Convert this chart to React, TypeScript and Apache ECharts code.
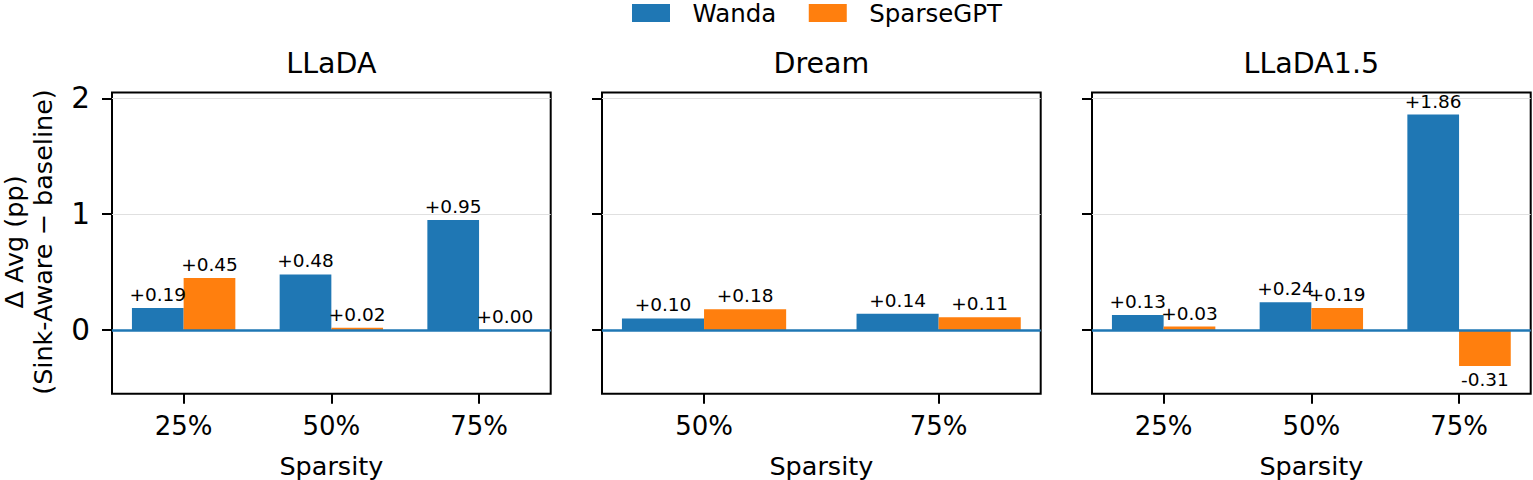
import React, { useEffect, useRef } from 'react';
import * as echarts from 'echarts';

// ---- data ----
const modelNames = ['LLaDA', 'Dream', 'LLaDA1.5'];
const seriesNames = ['Wanda', 'SparseGPT'];
const lladaCategories = ['25%', '50%', '75%'];
const dreamCategories = ['50%', '75%'];
const llada15Categories = ['25%', '50%', '75%'];
const lladaWanda = [0.19, 0.48, 0.95];
const lladaSparseGPT = [0.45, 0.02, 0.0];
const dreamWanda = [0.1, 0.14];
const dreamSparseGPT = [0.18, 0.11];
const llada15Wanda = [0.13, 0.24, 1.86];
const llada15SparseGPT = [0.03, 0.19, -0.31];
const yTickValues = [0, 1, 2];
const yMin = -0.55;
const yMax = 2.05;
const xAxisTitle = 'Sparsity';
const yAxisTitleLines = ['Δ Avg (pp)', '(Sink-Aware − baseline)'];

// ---- styling / layout ----
const FONT = '"DejaVu Sans", sans-serif';
const COLORS = ['#1f77b4', '#ff7f0e'];
const GRID_LEFTS = [112, 602, 1092];
const GRID_TOP = 92.5;
const GRID_W = 438.7;
const GRID_H = 301.3;
const BAR_FRAC = 0.35;
const YLABEL_X = [14, 42.5];

const panels = [
  { title: modelNames[0], cats: lladaCategories, vals: [lladaWanda, lladaSparseGPT] },
  { title: modelNames[1], cats: dreamCategories, vals: [dreamWanda, dreamSparseGPT] },
  { title: modelNames[2], cats: llada15Categories, vals: [llada15Wanda, llada15SparseGPT] },
];

function fmt(v: number) {
  return (v >= 0 ? '+' : '') + v.toFixed(2);
}

function buildOption() {
  const grid: any[] = [];
  const xAxis: any[] = [];
  const yAxis: any[] = [];
  const series: any[] = [];
  const graphic: any[] = [];

  panels.forEach((p, i) => {
    const n = p.cats.length;
    const span = n - 1 + 2 * BAR_FRAC;
    const xMin = -BAR_FRAC - 0.05 * span;
    const xMax = n - 1 + BAR_FRAC + 0.05 * span;
    const barPx = (BAR_FRAC * GRID_W) / (xMax - xMin);
    const idx = p.cats.map((_, j) => j);

    grid.push({
      left: GRID_LEFTS[i],
      top: GRID_TOP,
      width: GRID_W,
      height: GRID_H,
      show: true,
      borderColor: '#000',
      borderWidth: 2,
      backgroundColor: 'transparent',
      containLabel: false,
      outerBoundsMode: 'none',
    });

    xAxis.push({
      gridIndex: i,
      type: 'value',
      min: xMin,
      max: xMax,
      position: 'bottom',
      axisLine: { show: false, onZero: false },
      axisTick: { show: true, customValues: idx, length: 10, lineStyle: { color: '#000', width: 2 } },
      axisLabel: {
        show: true,
        customValues: idx,
        formatter: (v: number) => p.cats[Math.round(v)] ?? '',
        fontSize: 26,
        fontFamily: FONT,
        color: '#000',
        margin: 32,
        verticalAlign: 'middle',
      },
      splitLine: { show: false },
    });

    yAxis.push({
      gridIndex: i,
      type: 'value',
      min: yMin,
      max: yMax,
      position: 'left',
      axisLine: { show: false, onZero: false },
      axisTick: { show: true, customValues: yTickValues, length: 10, lineStyle: { color: '#000', width: 2 } },
      axisLabel: {
        show: i === 0,
        customValues: yTickValues,
        fontSize: 29.5,
        fontFamily: FONT,
        color: '#000',
        margin: 22,
        padding: [4, 0, 0, 0],
      },
      splitLine: { show: true, lineStyle: { color: '#e0e0e0', width: 1 } },
    });

    p.vals.forEach((vals, k) => {
      series.push({
        type: 'bar',
        name: seriesNames[k],
        xAxisIndex: i,
        yAxisIndex: i,
        barWidth: barPx,
        barGap: '0%',
        itemStyle: { color: COLORS[k] },
        data: vals.map((v, j) => ({
          value: [j, v],
          label: { position: v < 0 ? 'bottom' : 'top' },
        })),
        label: {
          show: true,
          formatter: (prm: any) => fmt(prm.value[1]),
          fontSize: 18.5,
          fontFamily: FONT,
          color: '#000',
          distance: 4,
        },
        markLine:
          k === 0
            ? {
                silent: true,
                symbol: ['none', 'none'],
                label: { show: false },
                lineStyle: { color: COLORS[0], width: 2.6, type: 'solid' },
                data: [{ yAxis: 0 }],
              }
            : undefined,
        z: 3,
      });
    });

    graphic.push({
      type: 'text',
      x: GRID_LEFTS[i] + GRID_W / 2,
      y: 63.5,
      style: { text: p.title, fontSize: 28.5, fontFamily: FONT, fill: '#000', align: 'center', verticalAlign: 'middle' },
    });
    graphic.push({
      type: 'text',
      x: GRID_LEFTS[i] + GRID_W / 2,
      y: 466,
      style: { text: xAxisTitle, fontSize: 25.5, fontFamily: FONT, fill: '#000', align: 'center', verticalAlign: 'middle' },
    });
  });

  yAxisTitleLines.forEach((line, li) => {
    graphic.push({
      type: 'text',
      x: YLABEL_X[li],
      y: 242,
      rotation: Math.PI / 2,
      style: {
        text: line,
        fontSize: 25.5,
        lineHeight: 24,
        fontFamily: FONT,
        fill: '#000',
        align: 'center',
        verticalAlign: 'middle',
      },
    });
  });

  return {
    animation: false,
    backgroundColor: '#fff',
    legend: {
      data: seriesNames,
      left: 632,
      top: 0.5,
      padding: 0,
      itemWidth: 38,
      itemHeight: 18,
      itemGap: 32.5,
      icon: 'rect',
      selectedMode: false,
      textStyle: { fontSize: 24.5, fontFamily: FONT, color: '#000', padding: [0, 0, 0, 17.5] },
    },
    grid,
    xAxis,
    yAxis,
    series,
    graphic,
  };
}

export default function App() {
  const ref = useRef<HTMLDivElement>(null);
  useEffect(() => {
    if (!ref.current) return;
    const chart = echarts.init(ref.current, undefined, { renderer: 'svg' });
    chart.setOption(buildOption() as any);
    return () => chart.dispose();
  }, []);
  return (
    <div
      ref={ref}
      style={{ position: 'fixed', left: 0, top: 0, width: 1533, height: 480, background: '#fff' }}
    />
  );
}
